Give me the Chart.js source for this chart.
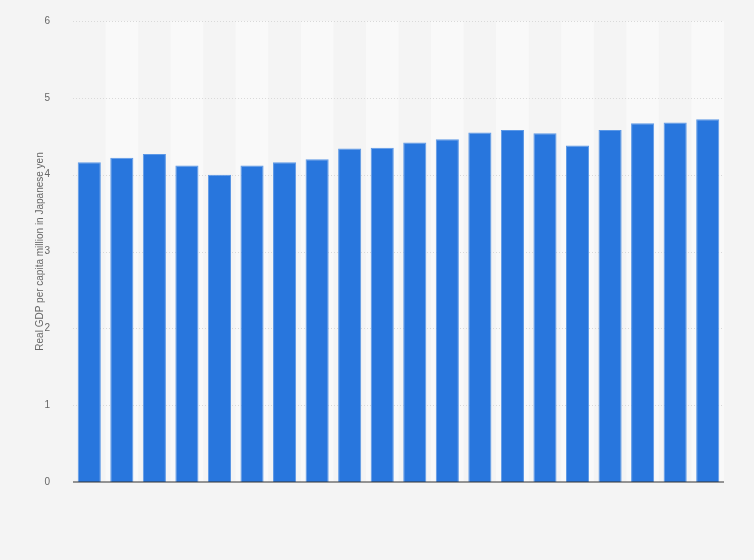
<!DOCTYPE html>
<html>
<head>
<meta charset="utf-8">
<script src="https://cdn.jsdelivr.net/npm/chart.js@4.4.0/dist/chart.umd.min.js"></script>
<style>
  html, body { margin: 0; padding: 0; background: #f4f4f4; }
  #wrap { width: 754px; height: 560px; position: relative; }
</style>
</head>
<body>
<div id="wrap"><canvas id="gdpChart"></canvas></div>
<script>
// datos (millones de yenes por habitante)
const years = ['2005', '2006', '2007', '2008', '2009', '2010', '2011', '2012', '2013', '2014',
               '2015', '2016', '2017', '2018', '2019', '2020', '2021', '2022', '2023', '2024'];
const gdpValues = [4.16, 4.22, 4.27, 4.12, 4.00, 4.12, 4.16, 4.20, 4.34, 4.35,
                   4.42, 4.46, 4.55, 4.58, 4.54, 4.38, 4.58, 4.67, 4.68, 4.72];
const yTicks = [0, 1, 2, 3, 4, 5, 6];
const yTitle = 'Real GDP per capita million in Japanese yen';

// franjas alternas detras de las barras
const stripes = {
    id: 'stripes',
    beforeDatasetsDraw(chart) {
        const { ctx, chartArea, scales } = chart;
        const x = scales.x;
        const half = (x.getPixelForValue(1) - x.getPixelForValue(0)) / 2;
        ctx.save();
        ctx.fillStyle = '#f9f9f9';
        years.forEach((y, i) => {
            if (i % 2 === 1) {
                const cx = x.getPixelForValue(i);
                ctx.fillRect(cx - half, chartArea.top, half * 2, chartArea.bottom - chartArea.top);
            }
        });
        ctx.restore();
    }
};

// linea base oscura en cero
const baseline = {
    id: 'baseline',
    afterDatasetsDraw(chart) {
        const { ctx, chartArea, scales } = chart;
        const y0 = scales.y.getPixelForValue(0);
        ctx.save();
        ctx.strokeStyle = '#333';
        ctx.lineWidth = 1.2;
        ctx.beginPath();
        ctx.moveTo(chartArea.left, y0);
        ctx.lineTo(chartArea.right, y0);
        ctx.stroke();
        ctx.restore();
    }
};

// los gridlines se dibujan antes que las franjas, los repito punteados encima
const grid = {
    id: 'dottedGrid',
    beforeDatasetsDraw(chart) {
        const { ctx, chartArea, scales } = chart;
        ctx.save();
        ctx.strokeStyle = '#d9d9d9';
        ctx.lineWidth = 1;
        ctx.setLineDash([1, 2]);
        yTicks.forEach(t => {
            if (t === 0) return;
            const py = Math.round(scales.y.getPixelForValue(t)) + 0.5;
            ctx.beginPath();
            ctx.moveTo(chartArea.left, py);
            ctx.lineTo(chartArea.right, py);
            ctx.stroke();
        });
        ctx.restore();
    }
};

function initChart() {
    const canvas = document.getElementById('gdpChart');
    new Chart(canvas.getContext('2d'), {
        type: 'bar',
        data: {
            labels: years,
            datasets: [{
                label: yTitle,
                data: gdpValues,
                backgroundColor: '#2876dd',
                borderColor: '#5c98e6',
                borderWidth: 1,
                barPercentage: 0.71,
                categoryPercentage: 1
            }]
        },
        options: {
            responsive: true,
            maintainAspectRatio: false,
            animation: false,
            layout: { padding: { top: 20, right: 30, bottom: 70, left: 0 } },
            plugins: {
                legend: { display: false },
                tooltip: { enabled: false }
            },
            scales: {
                x: {
                    grid: { display: false },
                    border: { display: false },
                    ticks: { display: false }
                },
                y: {
                    min: 0,
                    max: 6,
                    afterBuildTicks(scale) {
                        scale.ticks = yTicks.map(v => ({ value: v }));
                    },
                    afterFit(scale) { scale.width = 73; },
                    grid: { display: false },
                    border: { display: false },
                    ticks: {
                        color: '#666',
                        padding: 15,
                        font: { family: 'Liberation Sans, Arial, sans-serif', size: 10 }
                    },
                    title: {
                        display: true,
                        text: yTitle,
                        color: '#666',
                        padding: { top: 34, bottom: 0 },
                        font: { family: 'Liberation Sans, Arial, sans-serif', size: 10 }
                    }
                }
            }
        },
        plugins: [stripes, grid, baseline]
    });
}

window.addEventListener('DOMContentLoaded', initChart);
</script>
</body>
</html>
